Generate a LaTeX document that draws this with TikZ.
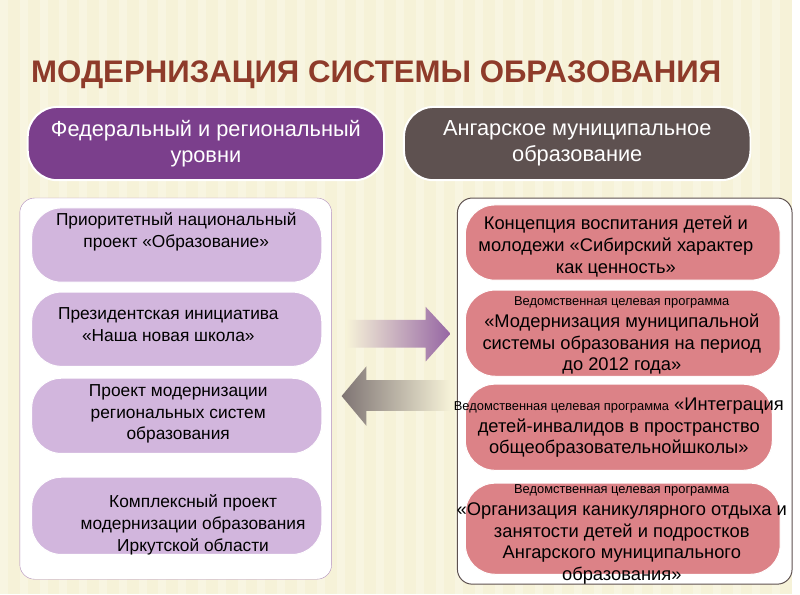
\documentclass[tikz,border=0pt]{standalone}
\usepackage{fontspec}
\setmainfont{Liberation Sans}
\definecolor{bg}{HTML}{F6F2D8}
\definecolor{purp}{HTML}{7B3F8C}
\definecolor{grbr}{HTML}{5E5150}
\definecolor{lav}{HTML}{D2B6DD}
\definecolor{pink}{HTML}{DC8287}
\definecolor{titc}{HTML}{8E3B2A}
\begin{document}
\begin{tikzpicture}[x=1pt,y=-1pt,
  hdr/.style={rounded corners=30pt,draw=white,line width=2pt},
  lp/.style={rounded corners=30pt,fill=lav,draw=white,line width=1pt},
  rp/.style={rounded corners=30pt,fill=pink,draw=white,line width=1pt},
  ht/.style={text=white,font=\fontsize{22}{26}\selectfont,align=center},
  lt/.style={font=\fontsize{17.5}{22}\selectfont,align=center},
  rt/.style={font=\fontsize{18.5}{22}\selectfont,align=center},
  sm/.style={font=\fontsize{13}{15}\selectfont}]
\fill[bg] (0,0) rectangle (800,600);
\foreach \i in {0,20,...,800} \fill[white,opacity=0.25] (\i,0) rectangle ++(8,600);
\node[font=\bfseries\fontsize{31.5}{34}\selectfont,text=titc] (title) at (380,75) {МОДЕРНИЗАЦИЯ СИСТЕМЫ ОБРАЗОВАНИЯ};
\draw[hdr,fill=purp] (28,108) rectangle (388,182);
\node[ht] (h1) at (208,145) {Федеральный и региональный\\уровни};
\draw[hdr,fill=grbr] (408,108) rectangle (758,182);
\node[ht] (h2) at (583,145) {Ангарское муниципальное\\образование};
\draw[fill=white,draw=purp!60,rounded corners=15pt] (20,200) rectangle (335,585);
\draw[fill=white,draw=grbr,line width=1pt,rounded corners=15pt] (462,200) rectangle (800,590);
\draw[lp] (32,210) rectangle (325,285);
\node[lt] (l1) at (178,234) {Приоритетный национальный\\проект «Образование»};
\draw[lp] (32,295) rectangle (325,370);
\node[lt] (l2) at (170,328) {Президентская инициатива\\«Наша новая школа»};
\draw[lp] (32,382) rectangle (325,458);
\node[lt] (l3) at (180,418) {Проект модернизации\\региональных систем\\образования};
\draw[lp] (32,482) rectangle (325,560);
\node[lt] (l4) at (195,530) {Комплексный проект\\модернизации образования\\Иркутской области};
\draw[rp] (470,207) rectangle (788,283);
\node[rt] (r1) at (622,249) {Концепция воспитания детей  и\\молодежи «Сибирский характер\\как ценность»};
\draw[rp] (470,293) rectangle (788,380);
\node[rt] (r2) at (628,339) {{\fontsize{13}{15}\selectfont Ведомственная целевая программа}\\«Модернизация муниципальной\\системы образования на период\\до 2012 года»};
\draw[rp] (470,388) rectangle (780,475);
\node[rt] (r3) at (625,432) {{\fontsize{13}{15}\selectfont Ведомственная целевая программа} «Интеграция\\детей-инвалидов в пространство\\общеобразовательнойшколы»};
\draw[rp] (470,488) rectangle (788,580);
\node[rt] (r4) at (628,540) {{\fontsize{13}{15}\selectfont Ведомственная целевая программа}\\«Организация каникулярного отдыха и\\занятости детей и подростков\\Ангарского муниципального\\образования»};
\shade[left color=bg,right color=purp!80] (350,323)--(430,323)--(430,310)--(455,337)--(430,365)--(430,351)--(350,351)--cycle;
\shade[left color=grbr!80,right color=bg] (455,384)--(370,384)--(370,370)--(345,400)--(370,430)--(370,415)--(455,415)--cycle;
\end{tikzpicture}
\end{document}
